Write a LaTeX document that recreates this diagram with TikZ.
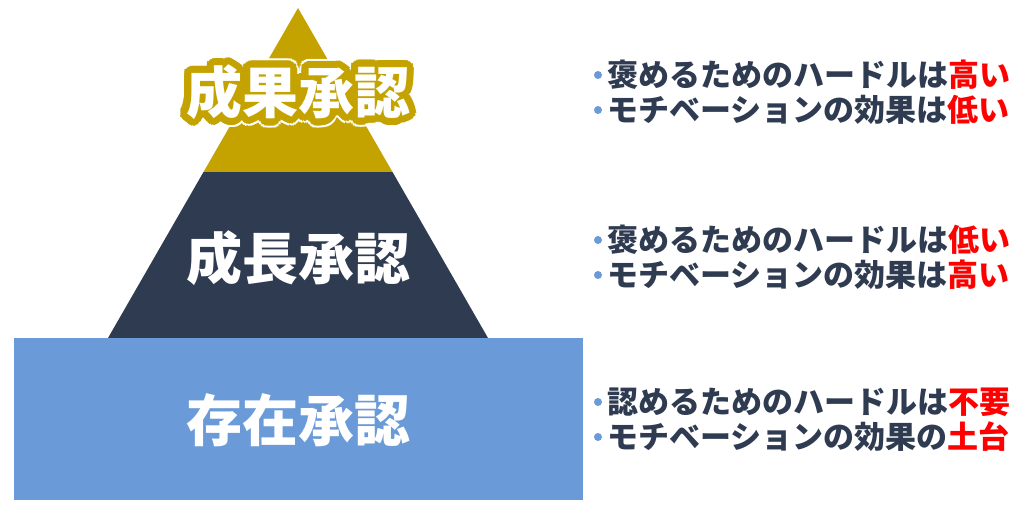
\documentclass[tikz,border=0pt]{standalone}
\usepackage{fontspec}
\usetikzlibrary{calc}
\newfontfamily\cjk{Noto Sans CJK JP}
\definecolor{gold}{HTML}{C4A300}
\definecolor{navy}{HTML}{2E3B50}
\definecolor{lblue}{HTML}{6A9BD8}
\definecolor{hred}{HTML}{FF0000}
\tikzset{
  big/.style={font=\cjk\bfseries\fontsize{56}{60}\selectfont, text=white, inner sep=0pt},
  line/.style={font=\cjk\bfseries\fontsize{31}{34}\selectfont, text=navy, anchor=west, inner sep=0pt},
  dot/.style={circle, fill=lblue, inner sep=0pt, minimum size=8pt}
}
\newcommand{\hl}[1]{\textcolor{hred}{#1}}
\begin{document}
\begin{tikzpicture}[x=1pt,y=-1pt]
\useasboundingbox[fill=white] (0,0) rectangle (1024,512);
\fill[gold] (298,8) -- (392.5,172) -- (203.5,172) -- cycle;
\fill[navy] (203.5,172) -- (392.5,172) -- (488,338) -- (108,338) -- cycle;
\fill[lblue] (14,338) rectangle (583,500);
% outlined title
\foreach \a in {0,15,...,345} {
  \node[big, text=white] at ($(298,92)+(\a:9)$) {成果承認};
}
\foreach \r in {3,5.5,7} {
\foreach \a in {0,15,...,345} {
  \node[big, text=gold] at ($(298,92)+(\a:\r)$) {成果承認};
}}
\node[big] (t1) at (298,92) {成果承認};
\node[big] (t2) at (298,258) {成長承認};
\node[big] (t3) at (298,420) {存在承認};
\foreach \y/\txt [count=\i] in {
  75/{褒めるためのハードルは\hl{高い}},
  110/{モチベーションの効果は\hl{低い}},
  240/{褒めるためのハードルは\hl{低い}},
  275/{モチベーションの効果は\hl{高い}},
  402/{認めるためのハードルは\hl{不要}},
  437/{モチベーションの効果の\hl{土台}}} {
  \node[dot] (d\i) at (598,\y) {};
  \node[line] (l\i) at (607,\y) {\txt};
}
\end{tikzpicture}
\end{document}
